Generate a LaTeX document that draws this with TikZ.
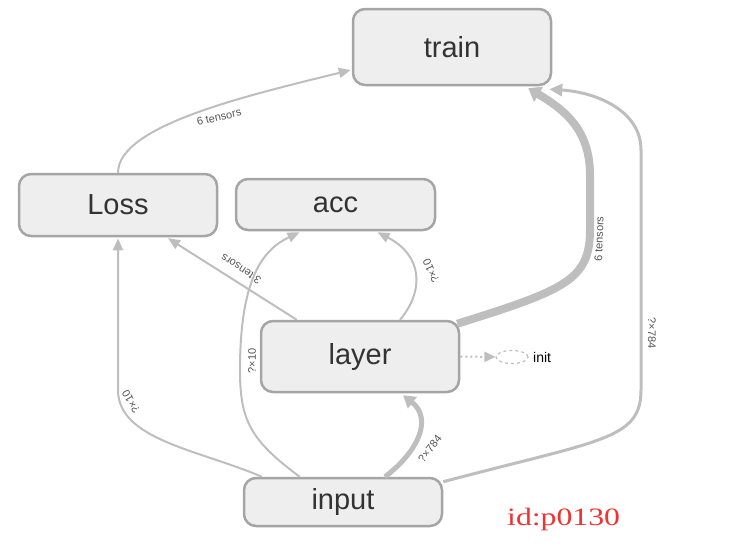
\documentclass[tikz,border=0pt]{standalone}
\usepackage{fontspec}
\setmainfont{Liberation Sans}
\newfontfamily\idfont[FakeStretch=1.27]{Liberation Serif}
\usetikzlibrary{arrows.meta,shapes.geometric,calc}
\definecolor{edgec}{RGB}{190,190,190}
\definecolor{nodefill}{RGB}{238,238,238}
\definecolor{nodedraw}{RGB}{165,165,165}
\definecolor{txtc}{RGB}{51,51,51}
\definecolor{lblc}{RGB}{85,85,85}
\definecolor{idred}{RGB}{240,50,50}
\begin{document}
\begin{tikzpicture}[x=1pt,y=-1pt,
  opnode/.style={draw=nodedraw, fill=nodefill, line width=2.5pt, rounded corners=12pt,
    minimum width=198pt, inner sep=0pt, text=txtc, font=\fontsize{29}{32}\selectfont},
  conn/.style={draw=edgec, line width=2pt, -{Triangle[length=12pt,width=10pt]}},
  mid/.style={draw=edgec, line width=3pt, -{Triangle[length=13pt,width=12pt]}},
  thick conn/.style={draw=edgec, line width=8pt, -{Triangle[length=12pt,width=17pt]}},
  elab/.style={font=\fontsize{11}{12}\selectfont, text=lblc, inner sep=1pt}]
\useasboundingbox (0,0) rectangle (741,547);

\node[opnode, minimum height=76pt] (train) at (452,47) {train};
\node[opnode, minimum height=62pt] (Loss) at (118,205) {Loss};
\node[opnode, minimum height=51pt, minimum width=199pt] (acc) at (335.5,204.5) {acc};
\node[opnode, minimum height=71pt] (layer) at (360,356.5) {layer};
\node[opnode, minimum height=48pt] (input) at (343,502) {input};
\node[draw=edgec, dashed, line width=1.2pt, ellipse, minimum width=32pt, minimum height=13pt, inner sep=0pt] (init) at (512,357) {};
\node[font=\fontsize{14}{16}\selectfont, anchor=west, inner sep=0pt] (initlbl) at (533,357) {init};
\node[font=\idfont\fontsize{25}{27}\selectfont, text=idred, anchor=base west, inner sep=0pt] (idtxt) at (507,525) {id:p0130};

% labels
\node[elab, rotate=13] (l1) at (219,117) {6 tensors};
\node[elab, rotate=147] (l2) at (241,269) {3 tensors};
\node[elab, rotate=90] (l3) at (252,361) {?×10};
\node[elab, rotate=114] (l4) at (431,271) {?×10};
\node[elab, rotate=88] (l5) at (599,239) {6 tensors};
\node[elab, rotate=-90] (l6) at (652,333) {?×784};
\node[elab, rotate=120] (l7) at (131,402) {?×10};
\node[elab, rotate=52] (l8) at (430,449) {?×784};

% edges
\draw[conn] (Loss.north) .. controls (118,125) and (250,95) .. ($(train.west)+(-1,23)$);
\draw[conn] ($(layer.north west)+(37,0)$) -- ($(Loss.south)+(50,1)$);
\draw[conn] ($(input.north west)+(57,0)$) .. controls (250,440) and (240,420) .. (240,370)
  .. controls (240,280) and (262,250) .. ($(acc.south)+(-36,1)$);
\draw[conn] ($(layer.north)+(40,0)$) .. controls (425,290) and (422,255) .. ($(acc.south)+(42,1)$);
\draw[thick conn] ($(layer.north east)+(-3,4)$) .. controls (565,290) and (590,280) .. (590,230)
  -- (590,175) .. controls (590,130) and (565,110) .. ($(train.south east)+(-24,2)$);
\draw[mid] ($(input.north east)+(0,5)$) .. controls (600,440) and (641,440) .. (641,390)
  -- (641,150) .. controls (641,110) and (595,92) .. ($(train.south east)+(-3,3)$);
\draw[conn] ($(input.north west)+(19,0)$) .. controls (200,450) and (118,440) .. (118,390)
  -- ($(Loss.south)+(0,1)$);
\draw[draw=edgec, line width=5pt, -{Triangle[length=12pt,width=14pt]}] ($(input.north)+(42,0)$) .. controls (420,450) and (432,418) .. ($(layer.south)+(43,2)$);
\draw[draw=edgec, line width=2pt, dash pattern=on 2pt off 3pt, -{Triangle[length=11pt,width=10pt]}] (layer.east) -- (init.west);
\end{tikzpicture}
\end{document}
